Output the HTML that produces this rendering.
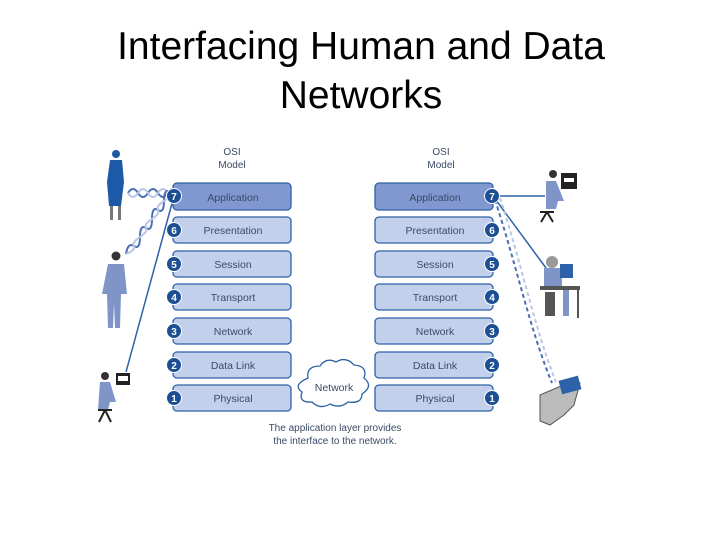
<!DOCTYPE html>
<html><head><meta charset="utf-8"><style>
html,body{margin:0;padding:0;background:#fff;}
svg{display:block;}
</style></head><body>
<svg width="720" height="540" viewBox="0 0 720 540" xmlns="http://www.w3.org/2000/svg" font-family="Liberation Sans, Arial, sans-serif">
<rect width="720" height="540" fill="#fff"/>
<text x="361" y="59" font-size="39" text-anchor="middle" fill="#000">Interfacing Human and Data</text>
<text x="361" y="108" font-size="39" text-anchor="middle" fill="#000">Networks</text>

<g font-size="10" fill="#3a4a66" text-anchor="middle">
<text x="232" y="155">OSI</text><text x="232" y="168">Model</text>
<text x="441" y="155">OSI</text><text x="441" y="168">Model</text>
</g>

<!-- wavy links left -->
<g fill="none" stroke-width="2">
<path d="M128,193 q5,-8 10,0 t10,0 t10,0 t10,0 t8,0" stroke="#4a6fb5"/>
<path d="M128,193 q5,8 10,0 t10,0 t10,0 t10,0 t8,0" stroke="#b9c6e4"/>
<path d="M126,254 q2,-12 8,-8 t6,-9 t6,-9 t6,-9 t6,-9 t6,-9 t6,-9" stroke="#4a6fb5"/>
<path d="M126,254 q10,-4 8,-8 t6,-9 t6,-9 t6,-9 t6,-9 t6,-9 t6,-9" stroke="#b9c6e4"/>
</g>
<line x1="174" y1="196" x2="126" y2="372" stroke="#2d62a8" stroke-width="1.5"/>
<!-- right links -->
<line x1="493" y1="196" x2="545" y2="196" stroke="#2d62a8" stroke-width="1.5"/>
<line x1="493" y1="196" x2="546" y2="268" stroke="#2d62a8" stroke-width="1.5"/>
<path d="M495,200 C515,260 530,330 552,383" fill="none" stroke="#4a6fb5" stroke-width="2" stroke-dasharray="4,3"/>
<path d="M500,198 C520,258 535,330 556,382" fill="none" stroke="#b9c6e4" stroke-width="2" stroke-dasharray="4,3"/>

<g stroke="#2d62a8" stroke-width="1.3">
<rect x="173" y="183" width="118" height="27" rx="4" fill="#8097cf"/>
<rect x="173" y="217" width="118" height="26" rx="4" fill="#c3d0ec"/>
<rect x="173" y="251" width="118" height="26" rx="4" fill="#c3d0ec"/>
<rect x="173" y="284" width="118" height="26" rx="4" fill="#c3d0ec"/>
<rect x="173" y="318" width="118" height="26" rx="4" fill="#c3d0ec"/>
<rect x="173" y="352" width="118" height="26" rx="4" fill="#c3d0ec"/>
<rect x="173" y="385" width="118" height="26" rx="4" fill="#c3d0ec"/>
<rect x="375" y="183" width="118" height="27" rx="4" fill="#8097cf"/>
<rect x="375" y="217" width="118" height="26" rx="4" fill="#c3d0ec"/>
<rect x="375" y="251" width="118" height="26" rx="4" fill="#c3d0ec"/>
<rect x="375" y="284" width="118" height="26" rx="4" fill="#c3d0ec"/>
<rect x="375" y="318" width="118" height="26" rx="4" fill="#c3d0ec"/>
<rect x="375" y="352" width="118" height="26" rx="4" fill="#c3d0ec"/>
<rect x="375" y="385" width="118" height="26" rx="4" fill="#c3d0ec"/>
</g>
<g font-size="10.5" fill="#3a4a66" text-anchor="middle">
<text x="233" y="201">Application</text><text x="233" y="234">Presentation</text>
<text x="233" y="268">Session</text><text x="233" y="301">Transport</text>
<text x="233" y="335">Network</text><text x="233" y="369">Data Link</text>
<text x="233" y="402">Physical</text>
<text x="435" y="201">Application</text><text x="435" y="234">Presentation</text>
<text x="435" y="268">Session</text><text x="435" y="301">Transport</text>
<text x="435" y="335">Network</text><text x="435" y="369">Data Link</text>
<text x="435" y="402">Physical</text>
</g>
<g fill="#1c4f93" stroke="#fff" stroke-width="1">
<circle cx="174" cy="196" r="7.5"/><circle cx="174" cy="230" r="7.5"/><circle cx="174" cy="264" r="7.5"/>
<circle cx="174" cy="297" r="7.5"/><circle cx="174" cy="331" r="7.5"/><circle cx="174" cy="365" r="7.5"/><circle cx="174" cy="398" r="7.5"/>
<circle cx="492" cy="196" r="7.5"/><circle cx="492" cy="230" r="7.5"/><circle cx="492" cy="264" r="7.5"/>
<circle cx="492" cy="297" r="7.5"/><circle cx="492" cy="331" r="7.5"/><circle cx="492" cy="365" r="7.5"/><circle cx="492" cy="398" r="7.5"/>
</g>
<g font-size="10" font-weight="bold" fill="#fff" text-anchor="middle">
<text x="174" y="200">7</text><text x="174" y="234">6</text><text x="174" y="268">5</text><text x="174" y="301">4</text><text x="174" y="335">3</text><text x="174" y="369">2</text><text x="174" y="402">1</text>
<text x="492" y="200">7</text><text x="492" y="234">6</text><text x="492" y="268">5</text><text x="492" y="301">4</text><text x="492" y="335">3</text><text x="492" y="369">2</text><text x="492" y="402">1</text>
</g>

<path d="M308,378 q-2,-12 12,-12 q6,-9 16,-4 q10,-6 18,3 q14,1 10,13 q10,8 -2,16 q0,10 -14,8 q-8,7 -18,2 q-10,6 -18,-2 q-14,1 -10,-10 q-10,-7 6,-14z" fill="#fff" stroke="#2d62a8" stroke-width="1.3"/>
<text x="334" y="391" font-size="10.5" fill="#3a4a66" text-anchor="middle">Network</text>

<g font-size="10" fill="#3a4a66" text-anchor="middle">
<text x="335" y="431">The application layer provides</text>
<text x="335" y="444">the interface to the network.</text>
</g>

<g fill="#1c5aa8">
<circle cx="116" cy="154" r="4"/>
<path d="M110,160 h12 l2,22 l-3,24 h-12 l-2,-24z"/>
<rect x="110" y="206" width="3" height="14" fill="#777"/><rect x="118" y="206" width="3" height="14" fill="#777"/>
</g>
<g fill="#7f95c8">
<circle cx="116" cy="256" r="4.5" fill="#333"/>
<path d="M108,264 h16 l3,30 h-6 l-1,34 h-5 l-1,-25 l-1,25 h-5 l-1,-34 h-5z"/>
</g>
<g>
<rect x="116" y="373" width="14" height="12" fill="#222"/>
<rect x="118" y="376" width="10" height="5" fill="#fff"/>
<circle cx="105" cy="376" r="4" fill="#333"/>
<path d="M100,382 h10 l6,20 h-6 l-2,8 h-10z" fill="#7f95c8"/>
<path d="M98,410 h14 M105,410 l-6,12 M105,410 l6,12" stroke="#222" stroke-width="2" fill="none"/>
</g>
<g>
<rect x="561" y="173" width="16" height="16" fill="#222"/><rect x="564" y="178" width="10" height="4" fill="#fff"/>
<circle cx="553" cy="174" r="4" fill="#333"/>
<path d="M546,181 h10 l8,20 h-6 l-2,8 h-10z" fill="#7f95c8"/>
<path d="M540,212 h14 M547,212 l-6,10 M547,212 l6,10" stroke="#222" stroke-width="2" fill="none"/>
</g>
<g>
<circle cx="552" cy="262" r="6" fill="#999"/>
<rect x="544" y="268" width="18" height="22" fill="#7f95c8"/>
<rect x="560" y="264" width="13" height="14" fill="#2d62a8"/>
<rect x="540" y="286" width="40" height="4" fill="#555"/>
<rect x="577" y="290" width="2" height="28" fill="#555"/>
<rect x="545" y="292" width="10" height="24" fill="#555"/>
<rect x="563" y="290" width="6" height="26" fill="#7f95c8"/>
</g>
<g>
<path d="M540,395 l28,-12 l12,0 l-6,22 l-10,10 l-14,10 l-10,-4z" fill="#bbb" stroke="#555"/>
<rect x="560" y="378" width="20" height="14" fill="#2d62a8" transform="rotate(-15 570 385)"/>
</g>
</svg>
</body></html>
